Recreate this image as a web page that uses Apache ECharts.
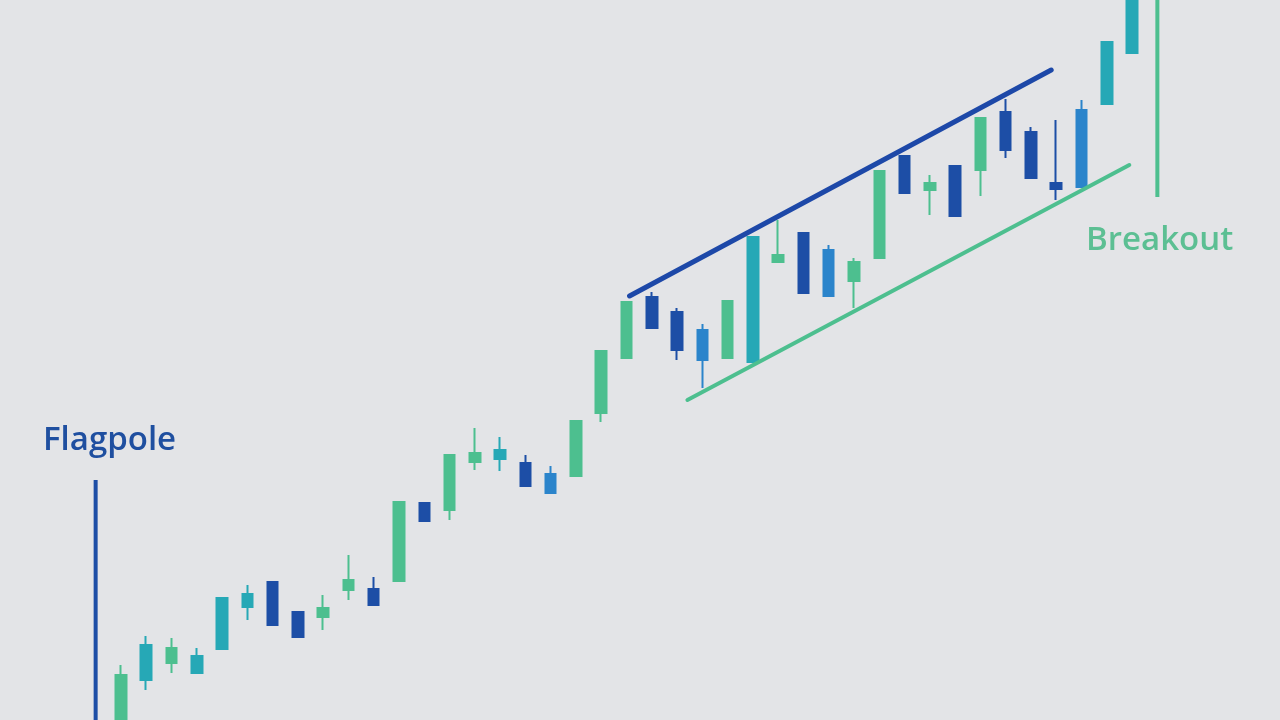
<!DOCTYPE html>
<html>
<head>
<meta charset="utf-8">
<script src="https://cdn.jsdelivr.net/npm/echarts@6/dist/echarts.min.js"></script>
<style>
html,body{margin:0;padding:0;background:#e3e4e7;}
#chart{width:1280px;height:720px;}
</style>
</head>
<body>
<div id="chart"></div>
<script>
// Slot 0 = flagpole, slots 1..41 = candles, slot 42 = breakout bar
const categories = ['P','1','2','3','4','5','6','7','8','9','10','11','12','13','14','15','16','17','18','19','20','21','22','23','24','25','26','27','28','29','30','31','32','33','34','35','36','37','38','39','40','41','B'];
const opens  = [null,99.5,104.0,105.7,104.7,107.1,111.3,113.8,110.8,110.3,113.0,113.1,113.9,121.7,121.0,125.8,126.1,125.7,124.6,124.4,130.7,136.2,142.3,140.8,139.0,136.2,135.8,145.8,148.7,147.0,143.9,146.2,156.4,153.0,155.4,155.0,160.8,158.8,153.7,153.3,161.6,166.7,null];
const closes = [null,104.5,107.5,107.2,106.4,112.2,112.6,109.5,108.3,111.2,114.0,111.5,121.8,119.9,126.5,126.7,127.0,123.4,122.7,129.9,136.9,141.8,139.2,137.0,136.0,141.9,148.3,146.5,142.7,142.4,145.8,154.9,152.7,153.7,150.4,160.2,157.0,154.2,153.1,161.0,167.8,173.0,null];
const lows   = [null,99.5,103.0,104.7,104.7,107.1,110.0,109.5,108.3,109.0,112.0,111.5,113.9,119.9,120.0,125.0,124.9,123.4,122.7,124.4,129.8,136.2,139.2,136.0,133.2,136.2,135.8,145.8,142.7,142.4,141.2,146.2,152.7,150.5,150.4,152.4,156.2,154.2,152.0,153.3,161.6,166.7,null];
const highs  = [null,105.5,108.4,108.2,107.2,112.2,113.5,113.8,110.8,112.5,116.5,114.3,121.8,121.7,126.5,129.2,128.3,126.5,125.4,129.9,136.9,141.8,142.8,141.2,139.6,141.9,148.3,150.0,148.7,147.5,146.2,154.9,156.4,154.5,155.4,160.2,162.1,159.3,160.0,162.0,167.8,173.0,null];
// candle colour group: G green, T teal, D dark blue, B blue
const kinds  = ['','G','T','G','T','T','T','D','D','G','G','D','G','D','G','G','T','D','B','G','G','G','D','D','B','G','T','G','D','B','G','G','D','G','D','G','D','D','D','B','T','T',''];
// reference lines: [slot, price]
const flagpole   = [[0, 99], [0, 124.0]];
const breakout   = [[42, 152.3], [42, 174]];
const upperTrend = [[21.12, 142.4], [37.8, 165.0]];
const lowerTrend = [[23.41, 132.0], [40.89, 155.5]];

const palette = {G:'#4dbf8f', T:'#26a8b6', D:'#1d4ea6', B:'#2b84cb'};

const candleData = categories.map((c, i) => {
  if (opens[i] == null) return '-';
  const col = palette[kinds[i]];
  return {
    value: [opens[i], closes[i], lows[i], highs[i]],
    itemStyle: {color: col, color0: col, borderColor: col, borderColor0: col}
  };
});

const chart = echarts.init(document.getElementById('chart'));
chart.setOption({
  backgroundColor: '#e3e4e7',
  animation: false,
  grid: {left: 83, right: 110, top: 0, bottom: 0, containLabel: false},
  xAxis: [
    {type: 'category', data: categories, boundaryGap: true, show: false},
    {type: 'value', min: -0.5, max: 42.5, show: false}
  ],
  yAxis: {type: 'value', min: 100, max: 172, show: false},
  series: [
    {
      type: 'candlestick', xAxisIndex: 0, barWidth: 11,
      itemStyle: {borderWidth: 2},
      data: candleData
    },
    {type: 'line', xAxisIndex: 1, data: flagpole, symbol: 'none',
     lineStyle: {color: '#1d4ea6', width: 4}},
    {type: 'line', xAxisIndex: 1, data: breakout, symbol: 'none',
     lineStyle: {color: '#4dbf8f', width: 4}},
    {type: 'line', xAxisIndex: 1, data: upperTrend, symbol: 'none',
     lineStyle: {color: '#1d48a8', width: 5, cap: 'round'}},
    {type: 'line', xAxisIndex: 1, data: lowerTrend, symbol: 'none',
     lineStyle: {color: '#4dbf8f', width: 4, cap: 'round'}}
  ],
  graphic: [
    {type: 'text', x: 43, y: 441,
     style: {text: 'Flagpole', fill: '#1f4fa0', textVerticalAlign: 'middle',
             font: '600 33px "Open Sans", sans-serif'}},
    {type: 'text', x: 1086, y: 241,
     style: {text: 'Breakout', fill: '#5cbf93', textVerticalAlign: 'middle',
             font: '600 33px "Open Sans", sans-serif'}}
  ]
});
</script>
</body>
</html>
